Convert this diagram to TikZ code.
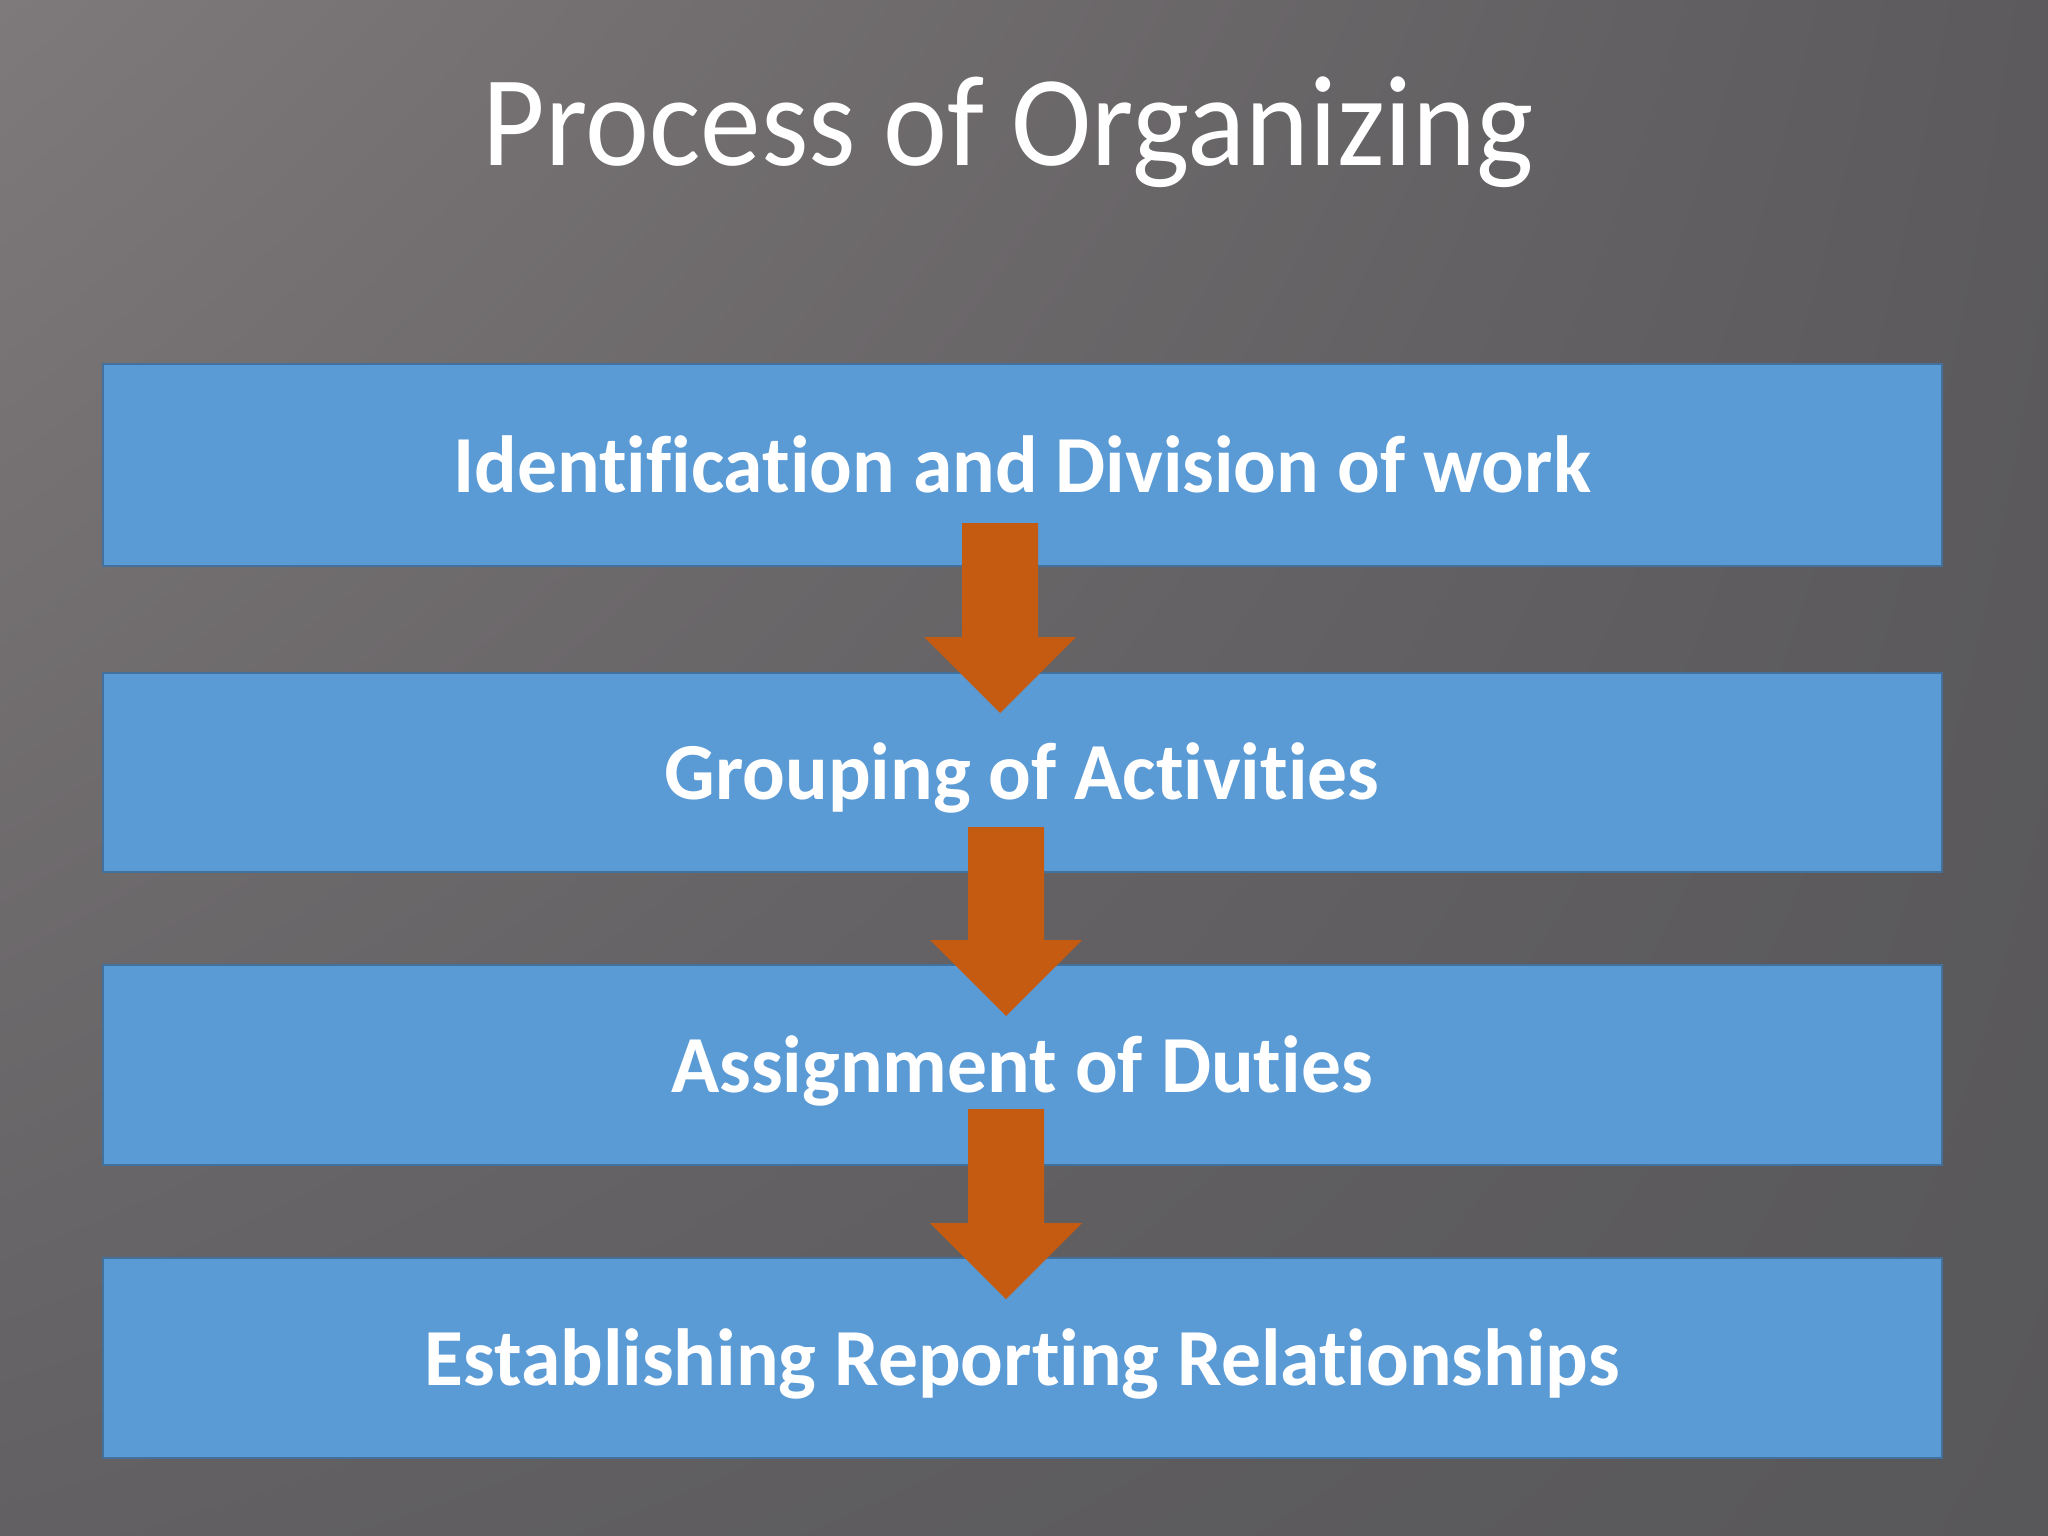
\documentclass[tikz,border=0pt]{standalone}
\usepackage{fontspec}
\setmainfont{Carlito}[Ligatures=NoCommon]
\newfontfamily\titlefont{Carlito}[Ligatures=NoCommon, FakeStretch=0.94]
\newfontfamily\stepfont{Carlito}[Ligatures=NoCommon, FakeStretch=0.982]
\usetikzlibrary{shadings}
\definecolor{bgUL}{RGB}{126,121,122}
\definecolor{bgUR}{RGB}{92,90,93}
\definecolor{bgLL}{RGB}{98,96,99}
\definecolor{bgLR}{RGB}{88,87,90}
\definecolor{boxfill}{RGB}{91,155,213}
\definecolor{boxline}{RGB}{65,113,156}
\definecolor{arrowfill}{RGB}{197,90,17}
\tikzset{
  stepbox/.style={draw=boxline, line width=2pt, fill=boxfill},
  boxtext/.style={text=white, anchor=base, inner sep=0pt, font=\stepfont\bfseries\fontsize{81}{97}\selectfont},
  blockarrow/.style={fill=arrowfill, draw=none},
}
\newcommand{\blockarrowat}[3]{% center x, top y, tip y
  \fill[blockarrow] (#1-38,#2) -- (#1+38,#2) -- (#1+38,#3-76) -- (#1+76,#3-76)
    -- (#1,#3) -- (#1-76,#3-76) -- (#1-38,#3-76) -- cycle;}
\begin{document}
\begin{tikzpicture}[x=1pt,y=-1pt]
\useasboundingbox (0,0) rectangle (2048,1536);
\shade[upper left=bgUL, upper right=bgUR, lower left=bgLL, lower right=bgLR] (0,0) rectangle (2048,1536);
\node[text=white, anchor=base, inner sep=0pt, font=\titlefont\fontsize{129}{150}\selectfont] (title) at (1008,165) {Process of Organizing};
\draw[stepbox] (103,364) rectangle (1942,566);
\draw[stepbox] (103,673) rectangle (1942,872);
\draw[stepbox] (103,965) rectangle (1942,1165);
\draw[stepbox] (103,1258) rectangle (1942,1458);
\node[boxtext] (b1) at (1022,492) {Identification and Division of work};
\node[boxtext] (b2) at (1022,799) {Grouping of Activities};
\node[boxtext] (b3) at (1022,1092) {Assignment of Duties};
\node[boxtext] (b4) at (1022,1385) {Establishing Reporting Relationships};
\blockarrowat{1000}{523}{713}
\blockarrowat{1006}{827}{1016}
\blockarrowat{1006}{1109}{1299}
\end{tikzpicture}
\end{document}
